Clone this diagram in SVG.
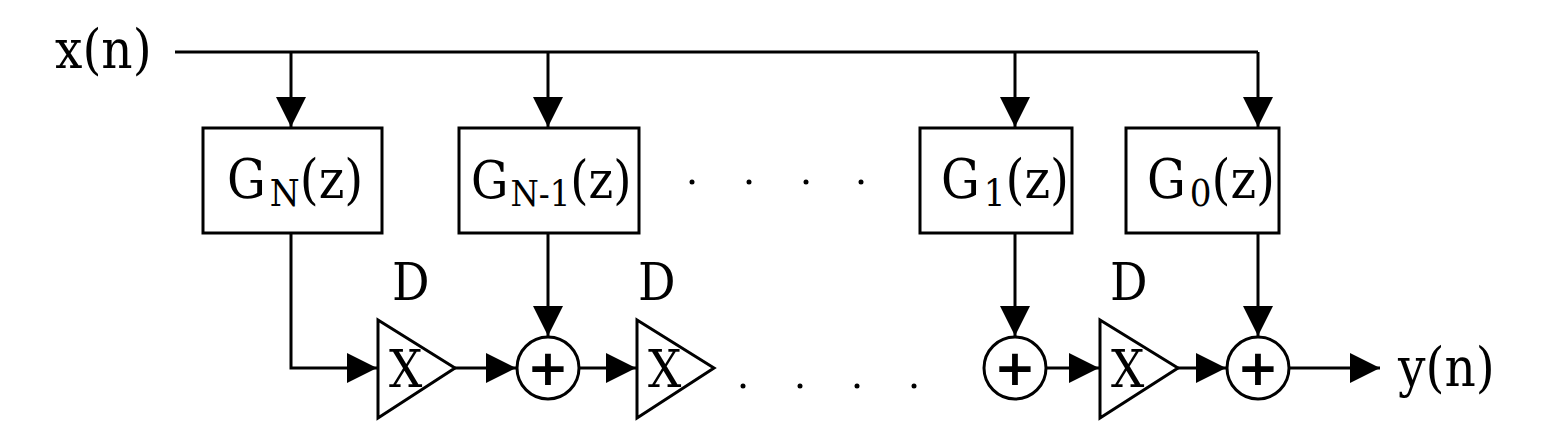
<svg xmlns="http://www.w3.org/2000/svg" width="1550" height="431" viewBox="0 0 1550 431">
<style>
.l{stroke:#000;stroke-width:3;fill:none}
.b{stroke:#000;stroke-width:3;fill:#fff}
.t{font-family:"DejaVu Serif Condensed","DejaVu Serif",serif;font-stretch:condensed;fill:#000}
.s{font-family:"DejaVu Sans","Liberation Sans",sans-serif;font-weight:bold;fill:#000}
</style>
<defs>
<marker id="a" markerWidth="10" markerHeight="10" refX="10" refY="5" orient="auto" markerUnits="strokeWidth"><path d="M0,0 L10,5 L0,10 Z" fill="#000"/></marker>
</defs>
<rect width="1550" height="431" fill="#fff"/>
<g id="connectors">
<path class="l" d="M175,52 H1258"/>
<path class="l" d="M291,52 V127" marker-end="url(#a)"/>
<path class="l" d="M548,52 V127" marker-end="url(#a)"/>
<path class="l" d="M1015,52 V127" marker-end="url(#a)"/>
<path class="l" d="M1258,52 V127" marker-end="url(#a)"/>
<path class="l" d="M291,233 V368 H377" marker-end="url(#a)"/>
<path class="l" d="M548,233 V336" marker-end="url(#a)"/>
<path class="l" d="M1015,233 V336" marker-end="url(#a)"/>
<path class="l" d="M1258,233 V336" marker-end="url(#a)"/>
<path class="l" d="M455,368 H516" marker-end="url(#a)"/>
<path class="l" d="M580,368 H636" marker-end="url(#a)"/>
<path class="l" d="M1047,368 H1099" marker-end="url(#a)"/>
<path class="l" d="M1178,368 H1226" marker-end="url(#a)"/>
<path class="l" d="M1290,368 H1380" marker-end="url(#a)"/>
</g>
<g id="xin"><text class="t" x="55" y="68" font-size="54">x(n)</text></g>
<g id="yout"><text class="t" x="1398" y="386" font-size="54">y(n)</text></g>
<g id="GN"><rect class="b" x="203" y="128" width="179" height="105"/><text class="t" x="227" y="198" font-size="54">G<tspan font-size="38" dx="4" dy="8">N</tspan><tspan dy="-8">(z)</tspan></text></g>
<g id="GN1"><rect class="b" x="459" y="128" width="180" height="105"/><text class="t" x="471" y="198" font-size="52">G<tspan font-size="36" dx="2" dy="8">N-1</tspan><tspan dy="-8">(z)</tspan></text></g>
<g id="G1"><rect class="b" x="920" y="128" width="152" height="105"/><text class="t" x="941" y="198" font-size="54">G<tspan font-size="38" dx="4" dy="8">1</tspan><tspan dy="-8">(z)</tspan></text></g>
<g id="G0"><rect class="b" x="1126" y="128" width="153" height="105"/><text class="t" x="1147" y="198" font-size="54">G<tspan font-size="38" dx="4" dy="8">0</tspan><tspan dy="-8">(z)</tspan></text></g>
<g id="dots1" fill="#000"><circle cx="692" cy="182" r="2.5"/><circle cx="749" cy="182" r="2.5"/><circle cx="806" cy="182" r="2.5"/><circle cx="861" cy="182" r="2.5"/></g>
<g id="dots2" fill="#000"><circle cx="743" cy="386" r="2.5"/><circle cx="800" cy="386" r="2.5"/><circle cx="857" cy="386" r="2.5"/><circle cx="914" cy="386" r="2.5"/></g>
<g id="D1"><path class="b" d="M378,320 L455,368 L378,418 Z"/><text class="t" x="389" y="387" font-size="52">X</text><text class="t" x="392" y="300" font-size="52">D</text></g>
<g id="D2"><path class="b" d="M637,320 L714,368 L637,418 Z"/><text class="t" x="648" y="387" font-size="52">X</text><text class="t" x="638" y="300" font-size="52">D</text></g>
<g id="D3"><path class="b" d="M1100,320 L1178,368 L1100,418 Z"/><text class="t" x="1111" y="387" font-size="52">X</text><text class="t" x="1110" y="300" font-size="52">D</text></g>
<g id="S1"><circle class="b" cx="548" cy="368" r="31"/><text class="s" x="548" y="385" font-size="50" text-anchor="middle">+</text></g>
<g id="S2"><circle class="b" cx="1015" cy="368" r="31"/><text class="s" x="1015" y="385" font-size="50" text-anchor="middle">+</text></g>
<g id="S3"><circle class="b" cx="1258" cy="368" r="31"/><text class="s" x="1258" y="385" font-size="50" text-anchor="middle">+</text></g>
</svg>
